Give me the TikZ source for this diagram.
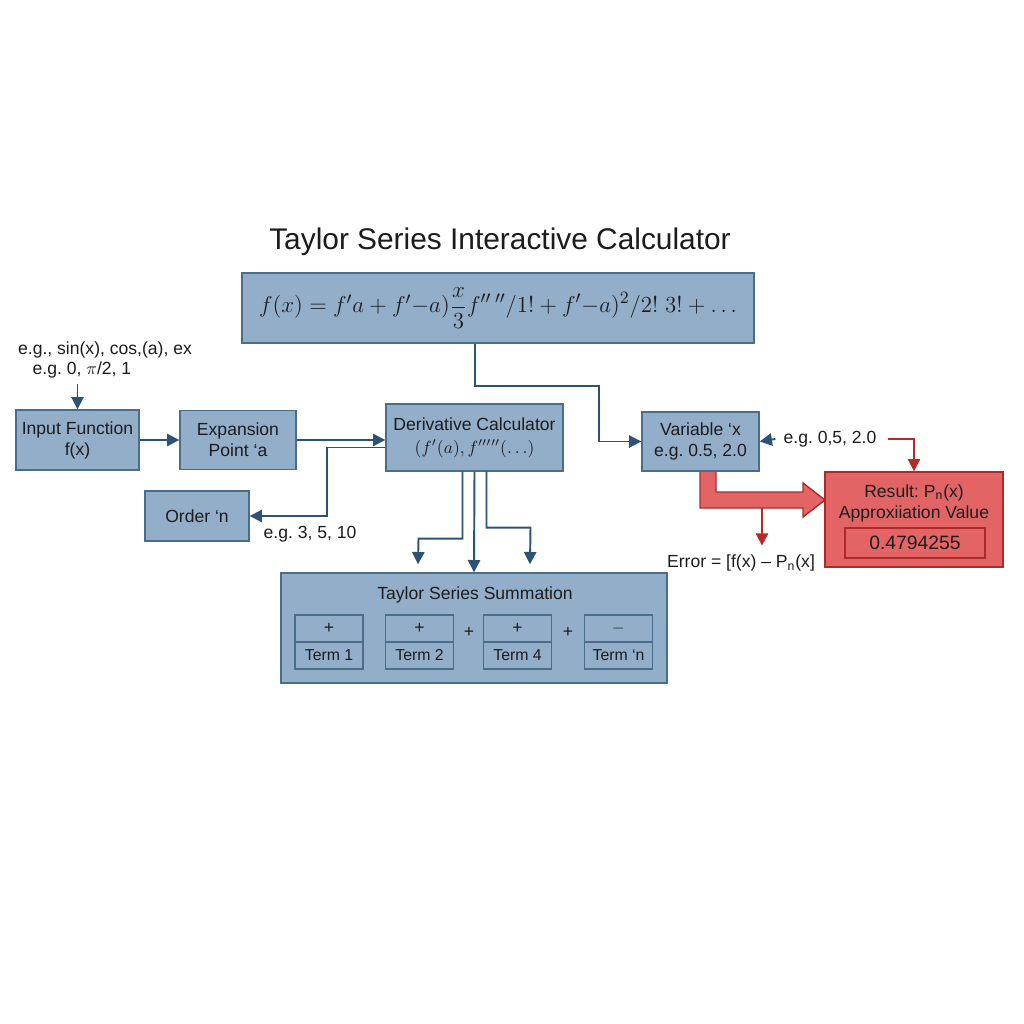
\documentclass[tikz,border=0pt]{standalone}
\usepackage{fontspec}
\usepackage{graphicx}
\setmainfont{Liberation Sans}
\usetikzlibrary{arrows.meta,calc}
\frenchspacing
\definecolor{boxfill}{HTML}{93AEC9}
\definecolor{boxline}{HTML}{4A6D8C}
\definecolor{arrowblue}{HTML}{2E5276}
\definecolor{resfill}{HTML}{E26464}
\definecolor{resline}{HTML}{AE2A2A}
\definecolor{arrowred}{HTML}{B52A2A}
\definecolor{txt}{HTML}{1C1C1C}
\begin{document}
\begin{tikzpicture}[x=0.02cm,y=-0.02cm,
    font=\fontsize{10}{12}\selectfont,text=txt,
    blk/.style={draw=boxline,fill=boxfill,line width=0.8pt,align=center,inner sep=0pt},
    resbox/.style={draw=resline,fill=resfill,line width=0.8pt,inner sep=0pt},
    termbox/.style={draw=boxline,fill=boxfill,line width=0.7pt,inner sep=0pt,
        minimum width=1.36cm,minimum height=0.54cm,font=\fontsize{9}{10}\selectfont},
    flow/.style={arrowblue,line width=1.1pt,-{Triangle[length=7pt,width=7pt]}},
    redflow/.style={arrowred,line width=1.1pt,-{Triangle[length=7pt,width=7pt]}}]
    \useasboundingbox[fill=white] (0,0) rectangle (1024,1024);

    % title and formula
    \node[font=\fontsize{17}{20}\selectfont] (title) at (500,242) {Taylor Series Interactive Calculator};
    \node[blk,minimum width=10.24cm,minimum height=1.4cm,font=\fontsize{12.8}{15}\selectfont] (form) at (498,308)
        {\scalebox{1.09}{$f(x) = f'a + f'{-}a)\displaystyle\frac{x}{3}f''\,''/1! + f'{-}a)^2/2!\ 3! + \ldots$}};

    % fat red arrow, under the variable box
    \filldraw[fill=resfill,draw=resline,line width=0.8pt] (700,471) -- (700,508) -- (803,508) -- (803,517)
        -- (825,500) -- (803,483) -- (803,492) -- (716,492) -- (716,471) -- cycle;

    % blocks
    \node[blk,minimum width=2.46cm,minimum height=1.2cm] (inp) at (77.5,440) {Input Function\\f(x)};
    \node[blk,minimum width=2.32cm,minimum height=1.18cm] (exp) at (238,440) {Expansion\\Point `a};
    \node[blk,minimum width=2.08cm,minimum height=1cm] (ord) at (197,516) {Order `n};
    \node[blk,minimum width=3.54cm,minimum height=1.34cm] (deriv) at (474.5,437.5)
        {Derivative Calculator\\[1pt]$(f'(a), f'''{}''(\ldots)$};
    \node[blk,minimum width=2.34cm,minimum height=1.18cm] (var) at (700.5,441.5) {Variable `x\\e.g. 0.5, 2.0};
    \node[resbox,minimum width=3.56cm,minimum height=1.9cm] (res) at (914,519.5) {};
    \node[align=center] (restxt) at (914,503) {Result: P\textsubscript{n}(x)\\Approxiiation Value};
    \node[draw=resline,line width=0.7pt,minimum width=2.8cm,minimum height=0.6cm,inner sep=0pt,
        font=\fontsize{11}{13}\selectfont] (val) at (915,543) {0.4794255};

    % summation
    \node[blk,minimum width=7.72cm,minimum height=2.2cm] (summ) at (474,628) {};
    \node (sumtxt) at (475,595) {Taylor Series Summation};
    \node[termbox,font=\fontsize{10}{12}\selectfont] (s1) at (329,628.5) {+};
    \node[termbox] (t1) at (329,655.5) {Term 1};
    \node[termbox,font=\fontsize{10}{12}\selectfont] (s2) at (419.5,628.5) {+};
    \node[termbox] (t2) at (419.5,655.5) {Term 2};
    \node[termbox,font=\fontsize{10}{12}\selectfont] (s4) at (517.5,628.5) {+};
    \node[termbox] (t4) at (517.5,655.5) {Term 4};
    \node[termbox] (sn) at (618.5,628.5) {$-$};
    \node[termbox] (tn) at (618.5,655.5) {Term `n};
    \node (p1) at (469,632) {+};
    \node (p2) at (568,632) {+};

    % notes
    \node (ex1) at (105,350) {e.g., sin(x), cos,(a), ex};
    \node (ex2) at (82,370) {e.g. 0, $\pi$/2, 1};
    \node (exo) at (310,534) {e.g. 3, 5, 10};
    \node (exv) at (830,439) {e.g. 0,5, 2.0};
    \node (err) at (741,563) {Error = [f(x) -- P\textsubscript{n}(x]};

    % connectors
    \draw[flow] ($(inp.north)+(0,-25)$) -- (inp.north);
    \draw[flow] (inp.east) -- (exp.west);
    \draw[flow] (exp.east) -- (exp.east -| deriv.west);
    \draw[flow,{Triangle[length=7pt,width=7pt]}-] (ord.east) -- ++(77,0) |- ($(deriv.west)+(0,10)$);
    \draw[flow] ($(form.south)+(-23,0)$) -- ++(0,42) -| ($(var.west)+(-42,0)$) -- (var.west);
    \draw[flow] ($(deriv.south)+(-12,0)$) |- ($(deriv.south)+(-56,67)$) -- ($(summ.north)+(-56,-8)$);
    \draw[flow] (deriv.south) -- (summ.north);
    \draw[flow] ($(deriv.south)+(12,0)$) |- ($(deriv.south)+(56,56)$) -- ($(summ.north)+(56,-8)$);
    \draw[flow] ($(exv.west)+(-2,0)$) -- (var.east);
    \draw[redflow] ($(exv.east)+(5,0)$) -| (res.north);
    \draw[redflow] (762,508) -- ($(err.north)+(21,-3)$);
\end{tikzpicture}
\end{document}
